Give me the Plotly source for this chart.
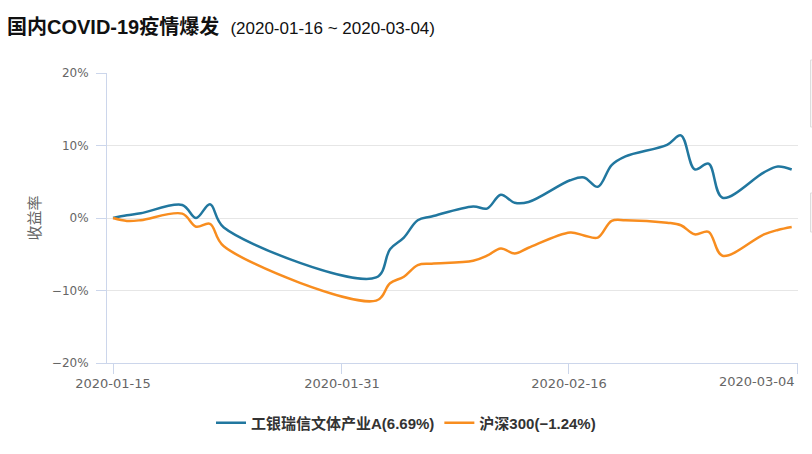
import plotly.graph_objects as go

# ---- data ----
dates = ["2020-01-15", "2020-01-16", "2020-01-17", "2020-01-20", "2020-01-21",
         "2020-01-22", "2020-01-23", "2020-02-03", "2020-02-04", "2020-02-05",
         "2020-02-06", "2020-02-07", "2020-02-10", "2020-02-11", "2020-02-12",
         "2020-02-13", "2020-02-14", "2020-02-17", "2020-02-18", "2020-02-19",
         "2020-02-20", "2020-02-21", "2020-02-24", "2020-02-25", "2020-02-26",
         "2020-02-27", "2020-02-28", "2020-03-02", "2020-03-03", "2020-03-04"]

fund_name = "工银瑞信文体产业A"
fund_ret = [0.0, 0.37, 0.65, 1.8, 0.0, 1.9, -1.3, -8.2, -4.3, -2.7,
            -0.3, 0.2, 1.6, 1.3, 3.2, 2.1, 2.2, 5.2, 5.6, 4.3,
            7.3, 8.5, 10.1, 11.4, 6.7, 7.5, 2.8, 6.3, 7.1, 6.69]

index_name = "沪深300"
index_ret = [0.0, -0.4, -0.3, 0.6, -1.2, -0.8, -3.9, -11.4, -9.0, -8.1,
             -6.5, -6.3, -5.9, -5.2, -4.2, -4.9, -4.1, -2.0, -2.4, -2.7,
             -0.4, -0.3, -0.65, -1.0, -2.25, -1.9, -5.2, -2.25, -1.65, -1.24]

x_tick_vals = ["2020-01-15 00:00", "2020-01-31 12:45", "2020-02-16 22:05", "2020-03-04 10:50"]
x_tick_text = ["2020-01-15", "2020-01-31", "2020-02-16", "2020-03-04"]
y_tick_vals = [-20, -10, 0, 10, 20]
y_tick_text = ["\u221220%", "\u221210%", "0%", "10%", "20%"]

title_main = "国内COVID-19疫情爆发"
title_sub = "(2020-01-16 ~ 2020-03-04)"
y_title = "收益率"

colors = ["#21779f", "#f88d1f"]


def legend_label(name, values):
    return f"{name}({values[-1]:.2f}%)".replace("-", "\u2212")


FONT = "Arial, 'Liberation Sans', 'Noto Sans CJK SC', sans-serif"
TICK_FONT = dict(size=13, color="#666666", family="'DejaVu Sans', sans-serif")

fig = go.Figure()
for name, vals, col in [(fund_name, fund_ret, colors[0]), (index_name, index_ret, colors[1])]:
    fig.add_trace(go.Scatter(
        x=dates, y=vals, mode="lines", name=legend_label(name, vals),
        line=dict(color=col, width=2.5, shape="spline", smoothing=1.0),
    ))

# The last tick label is shifted left to stay inside the chart (as in the reference),
# so it is drawn as a right-aligned annotation at that tick.
tick_text = x_tick_text[:-1] + [""]

fig.update_layout(
    width=812, height=454,
    margin=dict(l=107, r=14, t=73, b=91, autoexpand=False),
    paper_bgcolor="white", plot_bgcolor="white",
    font=dict(family=FONT, color="#666666", size=13),
    title=dict(
        text=f"<b>{title_main}</b>\u00a0\u00a0<span style='font-size:17px;font-weight:normal'>{title_sub}</span>",
        x=7 / 812, xref="container", xanchor="left",
        y=1 - 27 / 454, yref="container", yanchor="middle",
        font=dict(size=20, color="#111111", family=FONT),
    ),
    xaxis=dict(
        type="date", automargin=False,
        range=["2020-01-14 13:36", "2020-03-04 10:55"],
        tickmode="array", tickvals=x_tick_vals, ticktext=tick_text,
        showgrid=False, zeroline=False,
        showline=True, linecolor="#ccd6eb", linewidth=1,
        ticks="outside", ticklen=10, tickcolor="#ccd6eb", tickwidth=1,
        ticklabelstandoff=-2,
        tickfont=TICK_FONT,
    ),
    yaxis=dict(
        automargin=False,
        range=[-20, 20], tickmode="array", tickvals=y_tick_vals, ticktext=y_tick_text,
        showgrid=True, gridcolor="#e6e6e6", gridwidth=1,
        zeroline=False,
        showline=True, linecolor="#ccd6eb", linewidth=1,
        ticks="outside", ticklen=10, tickcolor="#ccd6eb", tickwidth=1,
        ticklabelstandoff=5,
        tickfont=dict(size=12, color="#666666", family="'DejaVu Sans', sans-serif"),
        title=dict(text=y_title, standoff=7,
                   font=dict(size=15, color="#666666", family="'Noto Sans CJK SC', sans-serif")),
    ),
    legend=dict(
        orientation="h", xref="container", x=0.5, xanchor="center",
        yref="container", y=1 - 423 / 454, yanchor="middle",
        font=dict(size=15, color="#333333", family=FONT, weight="bold"),
        itemwidth=30, traceorder="normal",
    ),
    showlegend=True,
    annotations=[
        dict(text=x_tick_text[-1], xref="x", x=x_tick_vals[-1], yref="paper", y=0,
             xanchor="right", yanchor="middle", xshift=-1, yshift=-18,
             showarrow=False, font=TICK_FONT),
    ],
    shapes=[
        dict(type="rect", xref="paper", yref="paper",
             x0=(810.5 - 107) / 691, x1=(815 - 107) / 691,
             y0=(363 - 127) / 290, y1=(363 - 60) / 290,
             line=dict(color="#dddddd", width=1), fillcolor="#f7f7f7", layer="above"),
        dict(type="rect", xref="paper", yref="paper",
             x0=(810.5 - 107) / 691, x1=(815 - 107) / 691,
             y0=(363 - 232) / 290, y1=(363 - 193) / 290,
             line=dict(color="#dddddd", width=1), fillcolor="#f7f7f7", layer="above"),
    ],
)

fig.write_html("out.html")
